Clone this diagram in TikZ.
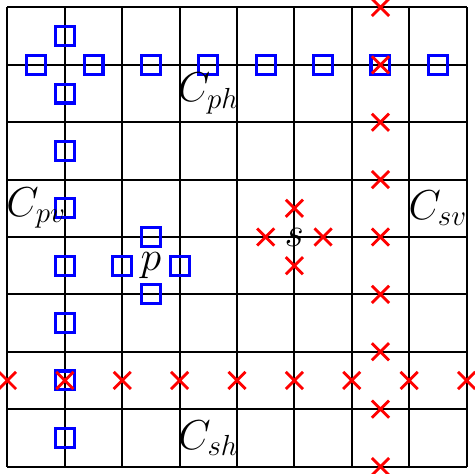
\documentclass[tikz,border=0pt]{standalone}
\usepackage{amsmath,amssymb}
\usetikzlibrary{shapes.misc,positioning}
\tikzset{
  gridline/.style={black, line width=1pt},
  bsq/.style={draw=blue, line width=1.5pt, rectangle, inner sep=0pt, minimum size=3.3mm},
  rx/.style={draw=red, line width=1.4pt, cross out, inner sep=0pt, minimum size=2.5mm},
  lbl/.style={font=\huge, inner sep=0pt},
}
\begin{document}
\begin{tikzpicture}
        \useasboundingbox (-0.13,-0.13) rectangle (8.13,8.13);
        \draw[gridline] (0,0) grid (8,8);
        % squares of p
        \foreach \i in {0,...,7} {
          \node[bsq] (bh\i) at (\i+0.5,7) {};
          \node[bsq] (bv\i) at (1,\i+0.5) {};
        }
        \node[lbl] (p) at (2.5,3.5) {$p$};
        \node[bsq] (pn) at (2.5,4) {};
        \node[bsq] (pw) at (2,3.5) {};
        \node[bsq] (pe) at (3,3.5) {};
        \node[bsq] (ps) at (2.5,3) {};
        % crosses of s
        \foreach \i in {0,...,8} {
          \node[rx] (rv\i) at (6.5,\i) {};
          \node[rx] (rh\i) at (\i,1.5) {};
        }
        \node[lbl] (s) at (5,4) {$s$};
        \node[rx] (sn) at (5,4.5) {};
        \node[rx] (sw) at (4.5,4) {};
        \node[rx] (se) at (5.5,4) {};
        \node[rx] (ss) at (5,3.5) {};
        % labels
        \node[lbl] (cph) at (3.5,6.5) {$C_{ph}$};
        \node[lbl] (cpv) at (0.5,4.5) {$C_{pv}$};
        \node[lbl] (csv) at (7.5,4.5) {$C_{sv}$};
        \node[lbl] (csh) at (3.5,0.5) {$C_{sh}$};
      \end{tikzpicture}
\end{document}
